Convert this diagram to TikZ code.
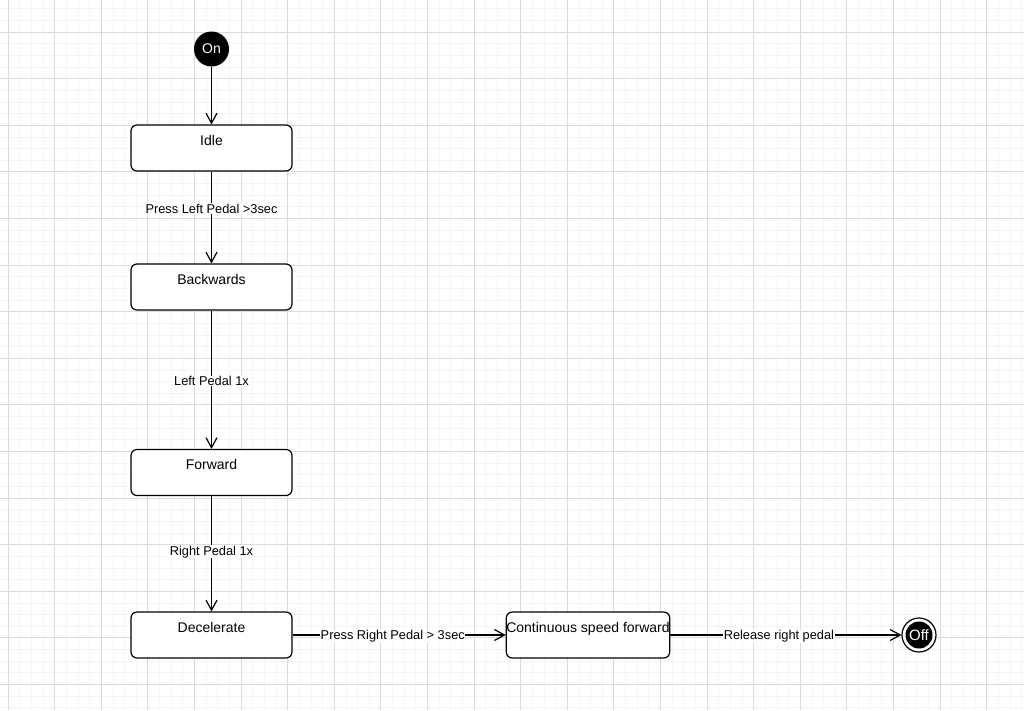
\documentclass[tikz,border=0pt]{standalone}
\usepackage{fontspec}
\setmainfont{Liberation Sans}
\usetikzlibrary{arrows.meta}
\begin{document}
\begin{tikzpicture}[x=1pt,y=-1pt,
  minorgrid/.style={draw=black!4, line width=0.7pt},
  majorgrid/.style={draw=black!14, line width=0.8pt},
  state/.style={draw=black, line width=1.2pt, rounded corners=6pt, fill=white,
    minimum width=161pt, minimum height=46pt, inner sep=0pt,
    text height=20pt, text depth=26pt, font=\fontsize{14}{16}\selectfont},
  trans/.style={draw=black, line width=1.2pt, -{Straight Barb[length=10pt,width=11pt]}},
  elabel/.style={fill=white, inner sep=0.5pt, yshift=-1.5pt, font=\fontsize{12.8}{14}\selectfont},
  pseudo/.style={circle, fill=black, inner sep=0pt, text=white, font=\fontsize{14}{16}\selectfont}
]
\useasboundingbox (0,0) rectangle (1024,710);
\fill[white] (0,0) rectangle (1024,710);
% grid
\foreach \i in {-1,...,87} \draw[minorgrid] ({8+\i*11.65},0) -- ({8+\i*11.65},710);
\foreach \j in {-3,...,58} \draw[minorgrid] (0,{32+\j*11.65}) -- (1024,{32+\j*11.65});
\foreach \i in {0,...,22} \draw[majorgrid] ({8+\i*46.6},0) -- ({8+\i*46.6},710);
\foreach \j in {-1,...,15} \draw[majorgrid] (0,{32+\j*46.6}) -- (1024,{32+\j*46.6});
% nodes
\node[pseudo, minimum size=35pt] (on) at (211.5,49) {On};
\node[state] (idle) at (211.5,148) {Idle};
\node[state] (back) at (211.5,287) {Backwards};
\node[state] (fwd) at (211.5,472.5) {Forward};
\node[state] (dec) at (211.5,635) {Decelerate};
\node[state] (cont) at (588,635) {Continuous speed forward};
\node[circle, draw=black, line width=1.2pt, fill=white, minimum size=34pt, inner sep=0pt] (off) at (919,635) {};
\node[pseudo, minimum size=27pt, font=\fontsize{15}{16}\selectfont] (offin) at (off.center) {Off};
% transitions
\draw[trans] (on) -- (idle);
\draw[trans] (idle) -- node[elabel, pos=0.387] (l1) {Press Left Pedal >3sec} (back);
\draw[trans] (back) -- node[elabel, pos=0.5] (l2) {Left Pedal 1x} (fwd);
\draw[trans] (fwd) -- node[elabel, pos=0.47] (l3) {Right Pedal 1x} (dec);
\draw[trans] (dec) -- node[elabel, pos=0.47] (l4) {Press Right Pedal > 3sec} (cont);
\draw[trans] (cont) -- node[elabel, pos=0.47] (l5) {Release right pedal} (off);
\end{tikzpicture}
\end{document}
